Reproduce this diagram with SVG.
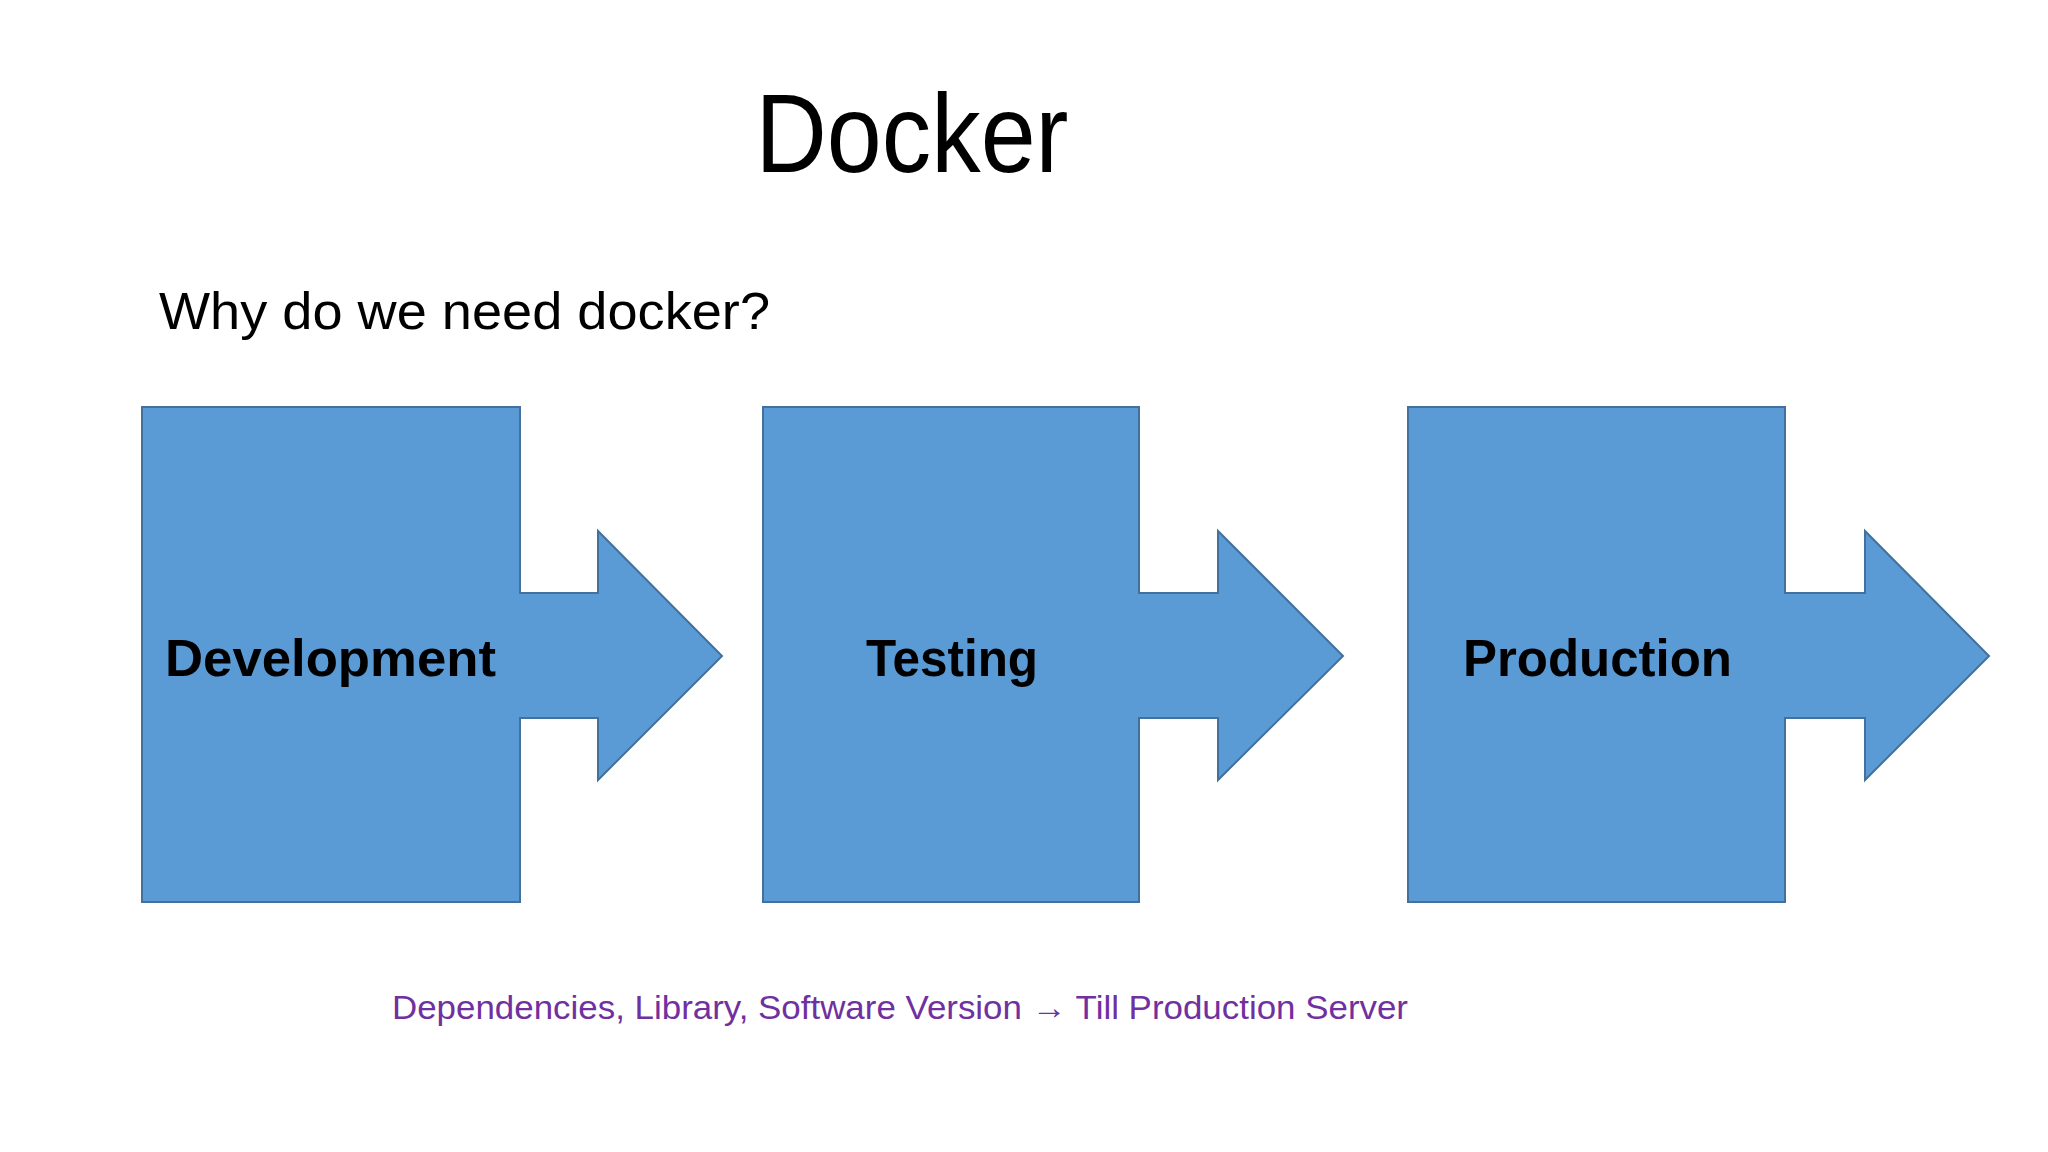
<svg xmlns="http://www.w3.org/2000/svg" width="2048" height="1152" viewBox="0 0 2048 1152">
<style>
.shape{fill:#5B9BD5;stroke:#41719C;stroke-width:2}
.lbl{font-family:"Liberation Sans",sans-serif;font-weight:bold;font-size:52px;fill:#000}
</style>
<rect width="2048" height="1152" fill="#fff"/>
<text x="912" y="172" text-anchor="middle" font-family="Liberation Sans, sans-serif" font-size="112" textLength="313" lengthAdjust="spacingAndGlyphs">Docker</text>
<text x="159" y="329" font-family="Liberation Sans, sans-serif" font-size="52" textLength="611" lengthAdjust="spacingAndGlyphs">Why do we need docker?</text>
<g id="development">
<path class="shape" d="M142 407H520V593H598V531L722 656L598 780V718H520V902H142Z"/>
<text class="lbl" x="165" y="676" textLength="331" lengthAdjust="spacingAndGlyphs">Development</text>
</g>
<g id="testing">
<path class="shape" d="M763 407H1139V593H1218V531L1343 656L1218 780V718H1139V902H763Z"/>
<text class="lbl" x="866" y="676" textLength="172" lengthAdjust="spacingAndGlyphs">Testing</text>
</g>
<g id="production">
<path class="shape" d="M1408 407H1785V593H1865V531L1989 656L1865 780V718H1785V902H1408Z"/>
<text class="lbl" x="1463" y="676" textLength="269" lengthAdjust="spacingAndGlyphs">Production</text>
</g>
<g id="connectors"></g>
<text x="392" y="1019" font-family="Liberation Sans, sans-serif" font-size="34" fill="#7030A0" textLength="1016" lengthAdjust="spacingAndGlyphs">Dependencies, Library, Software Version → Till Production Server</text>
</svg>
